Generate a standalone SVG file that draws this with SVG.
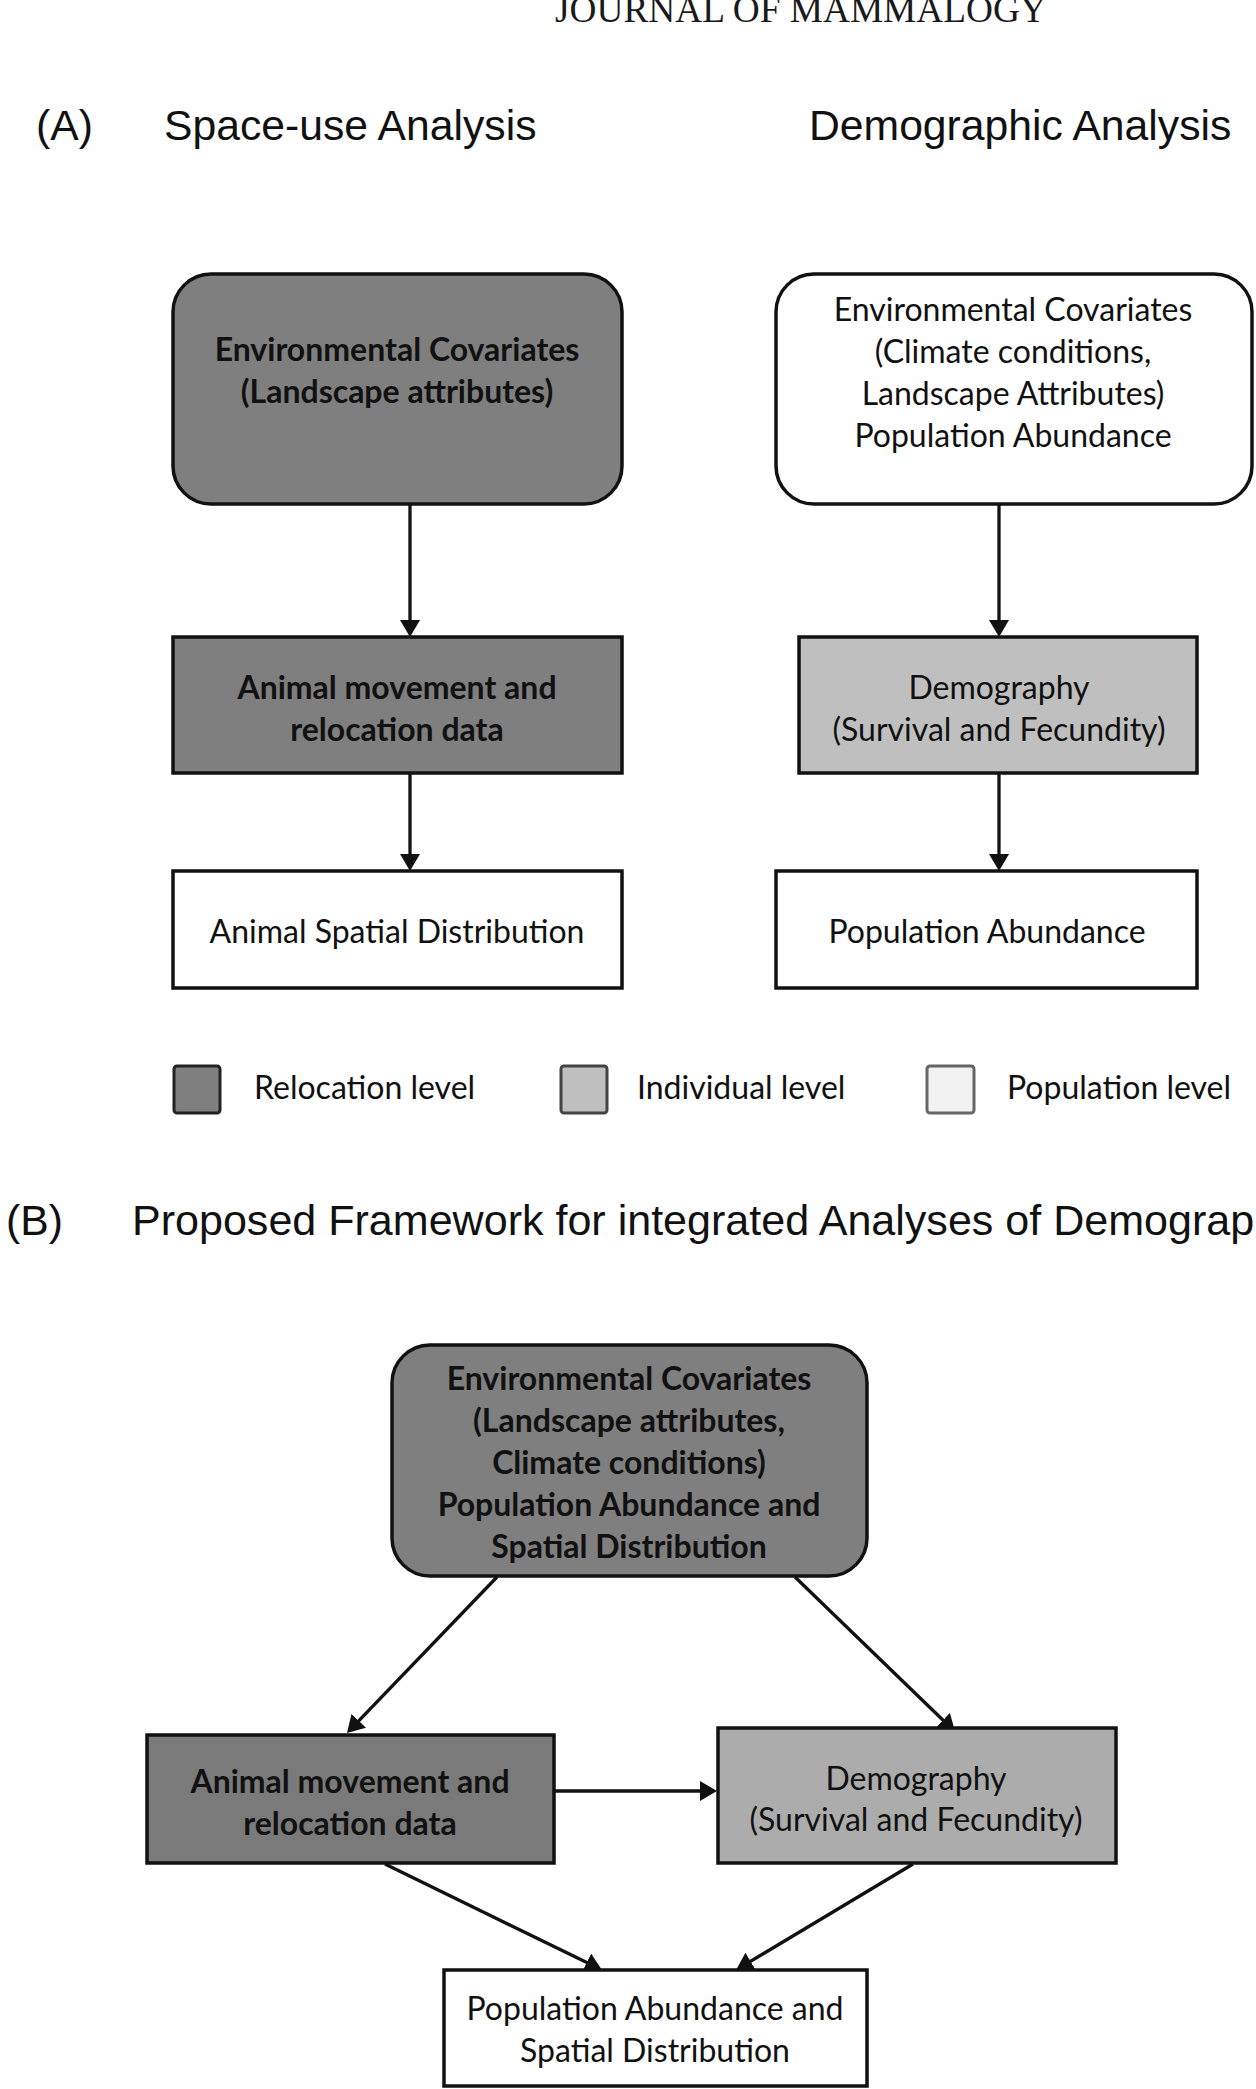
<svg xmlns="http://www.w3.org/2000/svg" width="1256" height="2089" viewBox="0 0 1256 2089">
<style>
.hdr{font-family:"Liberation Serif",serif;font-size:37.3px;fill:#1a1a1a}
.ttl{font-family:"Liberation Sans",Arial,sans-serif;font-size:42.7px;fill:#111}
.t{font-family:Lato,"Open Sans",sans-serif;font-size:32px;fill:#111;text-anchor:middle}
.b{font-weight:bold}
.lg{font-family:Lato,"Open Sans",sans-serif;font-size:32px;fill:#111}
.box{stroke:#111;stroke-width:3.5}
.dark{fill:#7f7f7f}
.mid{fill:#bfbfbf}
.wht{fill:#ffffff}
.con line{stroke:#111;stroke-width:3.3;fill:none;marker-end:url(#ah)}
</style>
<defs>
<marker id="ah" markerUnits="userSpaceOnUse" markerWidth="18" markerHeight="20" refX="7" refY="10" orient="auto">
<path d="M0,0 L17,10 L0,20 z" fill="#111"/>
</marker>
</defs>
<rect width="1256" height="2089" fill="#fff"/>
<text class="hdr" x="555" y="22">JOURNAL OF MAMMALOGY</text>
<text class="ttl" x="36" y="140">(A)</text>
<text class="ttl" x="164" y="140">Space-use Analysis</text>
<text class="ttl" x="809" y="140">Demographic Analysis</text>
<text class="ttl" x="6" y="1235">(B)</text>
<text class="ttl" x="132" y="1235" style="font-size:43.05px">Proposed Framework for integrated Analyses of Demograph</text>

<g class="con">
<line x1="410" y1="505" x2="410" y2="627"/>
<line x1="410" y1="773" x2="410" y2="861"/>
<line x1="999" y1="505" x2="999" y2="627"/>
<line x1="999" y1="773" x2="999" y2="861"/>
<line x1="497" y1="1577" x2="353.9" y2="1725.8"/>
<line x1="795" y1="1577" x2="948" y2="1725"/>
<line x1="554" y1="1791" x2="707" y2="1791"/>
<line x1="385" y1="1864" x2="593" y2="1965.6"/>
<line x1="913" y1="1864" x2="744.6" y2="1964.9"/>
</g>

<g id="a-env-space">
<rect class="box dark" x="173" y="274" width="449" height="230" rx="38"/>
<text class="t b" x="397" y="361">Environmental Covariates</text>
<text class="t b" x="397" y="403">(Landscape attributes)</text>
</g>
<g id="a-movement">
<rect class="box dark" x="173" y="637" width="449" height="136"/>
<text class="t b" x="397" y="699">Animal movement and</text>
<text class="t b" x="397" y="741">relocation data</text>
</g>
<g id="a-spatial">
<rect class="box wht" x="173" y="871" width="449" height="117"/>
<text class="t" x="397" y="943">Animal Spatial Distribution</text>
</g>
<g id="a-env-demo">
<rect class="box wht" x="776" y="274" width="476" height="230" rx="38"/>
<text class="t" x="1013" y="321">Environmental Covariates</text>
<text class="t" x="1013" y="363">(Climate conditions,</text>
<text class="t" x="1013" y="405">Landscape Attributes)</text>
<text class="t" x="1013" y="447">Population Abundance</text>
</g>
<g id="a-demography">
<rect class="box mid" x="799" y="637" width="398" height="136"/>
<text class="t" x="999" y="699">Demography</text>
<text class="t" x="999" y="741">(Survival and Fecundity)</text>
</g>
<g id="a-abundance">
<rect class="box wht" x="776" y="871" width="421" height="117"/>
<text class="t" x="987" y="943">Population Abundance</text>
</g>

<g id="legend">
<rect x="174" y="1066" width="46" height="47" rx="3" fill="#7f7f7f" stroke="#222" stroke-width="3"/>
<text class="lg" x="254" y="1099">Relocation level</text>
<rect x="561" y="1066" width="46" height="47" rx="3" fill="#bfbfbf" stroke="#444" stroke-width="3"/>
<text class="lg" x="637" y="1099">Individual level</text>
<rect x="927" y="1066" width="47" height="47" rx="3" fill="#f2f2f2" stroke="#666" stroke-width="3"/>
<text class="lg" x="1007" y="1099">Population level</text>
</g>

<g id="b-env">
<rect class="box dark" x="392" y="1345" width="475" height="231" rx="38"/>
<text class="t b" x="629" y="1390">Environmental Covariates</text>
<text class="t b" x="629" y="1432">(Landscape attributes,</text>
<text class="t b" x="629" y="1474">Climate conditions)</text>
<text class="t b" x="629" y="1516">Population Abundance and</text>
<text class="t b" x="629" y="1558">Spatial Distribution</text>
</g>
<g id="b-movement">
<rect class="box" fill="#7a7a7a" x="147" y="1735" width="407" height="128"/>
<text class="t b" x="350" y="1793">Animal movement and</text>
<text class="t b" x="350" y="1835">relocation data</text>
</g>
<g id="b-demography">
<rect class="box" fill="#acacac" x="718" y="1728" width="398" height="135"/>
<text class="t" x="916" y="1790">Demography</text>
<text class="t" x="916" y="1831">(Survival and Fecundity)</text>
</g>
<g id="b-output">
<rect class="box wht" x="444" y="1970" width="423" height="116"/>
<text class="t" x="655" y="2020">Population Abundance and</text>
<text class="t" x="655" y="2062">Spatial Distribution</text>
</g>
</svg>
